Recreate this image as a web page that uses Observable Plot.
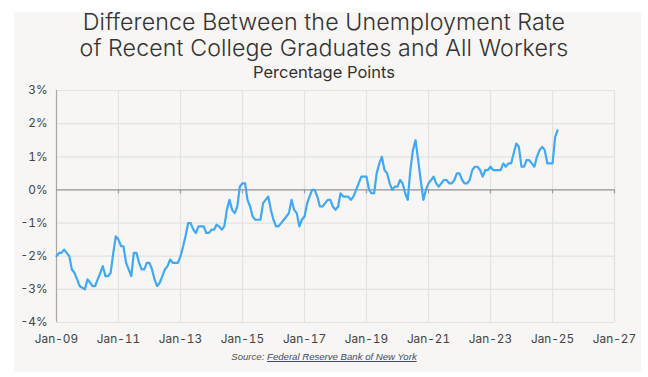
<!DOCTYPE html>
<html>
<head>
<meta charset="utf-8">
<script src="https://cdn.jsdelivr.net/npm/d3@7"></script>
<script src="https://cdn.jsdelivr.net/npm/@observablehq/plot@0.6"></script>
<style>
  html, body { margin: 0; padding: 0; background: #ffffff; }
  #wrap { position: relative; width: 648px; height: 377px; overflow: hidden; }
  #panel { position: absolute; left: 14px; top: 12px; width: 627px; height: 360px; background: #f7f6f4; }
  .t { position: absolute; left: 0; width: 648px; text-align: center; font-family: Inter, "Open Sans", sans-serif; color: #333; white-space: nowrap; }
  #title { top: 10px; font-size: 23.2px; font-weight: 300; line-height: 25.5px; letter-spacing: 0.1px; }
  #subtitle { top: 63px; font-size: 16.5px; font-weight: 400; line-height: 18px; color: #333; }
  #source { top: 350px; font-family: "Liberation Sans Narrow", "Liberation Sans", sans-serif; font-stretch: condensed; font-style: italic; font-size: 9.6px; color: #555; line-height: 14px; }
  #source a { color: #3b4a6b; text-decoration: underline; }
  #chart { position: absolute; left: 0; top: 0; }
</style>
</head>
<body>
<div id="wrap">
  <div id="panel"></div>
  <div id="chart"></div>
  <div class="t" id="title">Difference Between the Unemployment Rate<br>of Recent College Graduates and All Workers</div>
  <div class="t" id="subtitle">Percentage Points</div>
  <div class="t" id="source">Source: <a>Federal Reserve Bank of New York</a></div>
</div>
<script>
// Monthly difference (percentage points), starting January 2009
const startYear = 2009;
const diffValues = [
  -2.0,-1.9,-1.9,-1.8,-1.9,-2.0,-2.4,-2.5,-2.7,-2.9,-2.95,-3.0,
  -2.7,-2.8,-2.9,-2.9,-2.7,-2.5,-2.3,-2.6,-2.6,-2.5,-1.9,-1.4,
  -1.5,-1.7,-1.7,-2.2,-2.4,-2.6,-1.9,-1.9,-2.2,-2.4,-2.4,-2.2,
  -2.2,-2.4,-2.7,-2.9,-2.8,-2.6,-2.4,-2.3,-2.1,-2.2,-2.2,-2.2,
  -2.0,-1.7,-1.4,-1.0,-1.0,-1.2,-1.3,-1.1,-1.1,-1.1,-1.3,-1.3,
  -1.2,-1.2,-1.05,-1.1,-1.2,-1.1,-0.6,-0.3,-0.6,-0.7,-0.5,0.1,
  0.2,0.2,-0.3,-0.5,-0.8,-0.9,-0.9,-0.9,-0.4,-0.3,-0.2,-0.6,
  -0.9,-1.1,-1.1,-1.0,-0.9,-0.8,-0.7,-0.3,-0.6,-0.7,-1.1,-0.9,
  -0.8,-0.4,-0.2,0.0,0.0,-0.2,-0.5,-0.5,-0.4,-0.3,-0.3,-0.5,
  -0.6,-0.5,-0.1,-0.2,-0.2,-0.2,-0.3,-0.2,0.0,0.2,0.4,0.4,
  0.4,0.0,-0.1,-0.1,0.5,0.8,1.0,0.6,0.5,0.2,0.0,0.1,
  0.1,0.3,0.2,-0.1,-0.3,0.6,1.2,1.5,0.9,0.3,-0.3,0.0,
  0.2,0.3,0.4,0.2,0.1,0.2,0.3,0.3,0.2,0.2,0.3,0.5,
  0.5,0.3,0.2,0.2,0.3,0.6,0.7,0.7,0.6,0.4,0.6,0.6,
  0.7,0.6,0.6,0.6,0.6,0.8,0.7,0.8,0.8,1.1,1.4,1.3,
  0.7,0.7,0.9,0.9,0.8,0.7,1.0,1.2,1.3,1.2,0.8,0.8,
  0.8,1.6,1.8
];
const xTickYears = [2009, 2011, 2013, 2015, 2017, 2019, 2021, 2023, 2025, 2027];
const yTicks = [-4, -3, -2, -1, 0, 1, 2, 3];

const start = new Date(Date.UTC(startYear, 0, 1));
const data = diffValues.map((v, i) => ({ date: d3.utcMonth.offset(start, i), value: v }));
const xTicks = xTickYears.map(y => new Date(Date.UTC(y, 0, 1)));
const innerTicks = xTicks.slice(1);

const chart = Plot.plot({
  width: 648,
  height: 377,
  marginLeft: 56,
  marginRight: 34,
  marginTop: 90,
  marginBottom: 55,
  style: { background: "transparent", fontFamily: "Inter, 'Open Sans', sans-serif", fontSize: "11.8px", color: "#444" },
  x: {
    type: "utc",
    domain: [xTicks[0], xTicks[xTicks.length - 1]],
    ticks: xTicks,
    tickFormat: d => "Jan-" + String(d.getUTCFullYear()).slice(2),
    tickSize: 0,
    tickPadding: 12,
    label: null
  },
  y: {
    domain: [-4, 3],
    ticks: yTicks,
    tickFormat: d => d + "%",
    tickSize: 0,
    tickPadding: 9,
    label: null
  },
  marks: [
    Plot.gridX(innerTicks, { stroke: "#e2e2e2", strokeOpacity: 1, strokeWidth: 1.2 }),
    Plot.gridY(yTicks, { stroke: "#e2e2e2", strokeOpacity: 1, strokeWidth: 1.2 }),
    Plot.ruleX([xTicks[0]], { stroke: "#a8a8a8", strokeWidth: 1.2 }),
    Plot.ruleY([0], { stroke: "#9a9a9a", strokeWidth: 1.2 }),
    Plot.ruleX(innerTicks, { y1: 0, y2: -0.12, stroke: "#9a9a9a", strokeWidth: 1.2 }),
    Plot.line(data, { x: "date", y: "value", stroke: "#3fa9f5", strokeWidth: 2.2, curve: "linear" })
  ]
});
document.getElementById("chart").appendChild(chart);
</script>
</body>
</html>
